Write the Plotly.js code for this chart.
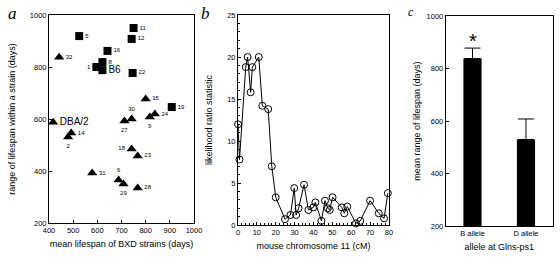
<!DOCTYPE html>
<html><head><meta charset="utf-8">
<script src="https://cdn.plot.ly/plotly-3.0.1.min.js"></script>
<style>html,body{margin:0;padding:0;background:#fff}#plot{width:560px;height:259px}</style>
</head><body><div id="plot"></div>
<script>
// Panel a: squares (B allele strains)
const sqLabels = ["11","12","5","16","8","1","B6","22","19"];
const sqMean   = [750, 742, 525, 642, 621, 596, 621, 746, 908];
const sqRange  = [950, 908, 919, 862, 819, 800, 788, 777, 646];
const sqPos    = ["middle right","middle right","middle right","middle right","middle right","middle left","middle right","middle right","middle right"];
// Panel a: triangles (D allele strains)
const trLabels = ["32","15","24","9","30","27","DBA/2","14","2","18","23","31","6","29","28"];
const trMean   = [442, 800, 838, 817, 742, 712, 417, 492, 479, 742, 767, 579, 688, 708, 767];
const trRange  = [838, 677, 619, 608, 600, 592, 588, 546, 531, 485, 458, 392, 365, 350, 335];
const trPos    = ["middle right","middle right","middle right","bottom center","top center","bottom center","middle right","middle right","bottom center","middle left","middle right","middle right","top center","bottom center","middle right"];
// Panel b: LRS along chromosome 11
const cM  = [0, 0.8, 4.1, 5.1, 6.7, 7.6, 11, 12.9, 16, 17.9, 20, 24.9, 27.8, 29.8, 30.8, 32.1, 35, 37.3, 39.9, 41, 44.2, 46.1, 47.6, 48.6, 50.1, 55, 56.3, 57.9, 62.5, 64.8, 70, 74.6, 77.4, 79.4];
const lrs = [12.0, 7.8, 18.8, 20.0, 15.8, 18.8, 20.0, 14.2, 13.8, 7.0, 3.3, 0.7, 1.2, 4.4, 1.2, 2.0, 4.8, 1.8, 2.1, 2.7, 0.5, 2.9, 2.0, 1.8, 3.3, 2.1, 1.4, 2.2, 0.2, 0.5, 2.9, 1.4, 0.8, 3.8];
// Panel c: mean range by allele
const alleles  = ["B allele", "D allele"];
const meanRange = [838, 530];
const errUp     = [40, 78];

const F = "Liberation Sans, Arial, sans-serif";
const tickF = {family: F, size: 7.5, color: "#000"};
const titleF = {family: F, size: 9, color: "#000"};
const ax = {showgrid:false, zeroline:false, showline:true, linecolor:"#000", linewidth:1, mirror:true,
            ticks:"inside", ticklen:3, tickcolor:"#000", tickfont:tickF};

const traces = [
 {type:"scatter", mode:"markers+text", x:sqMean, y:sqRange, text:sqLabels, textposition:sqPos,
  textfont:{family:F, size:sqLabels.map(l=>l==="B6"?10:6), color:"#000"},
  marker:{symbol:"square", size:8, color:"#000"}, xaxis:"x", yaxis:"y", cliponaxis:false, hoverinfo:"skip"},
 {type:"scatter", mode:"markers+text", x:trMean, y:trRange, text:trLabels, textposition:trPos,
  textfont:{family:F, size:trLabels.map(l=>l==="DBA/2"?10:6), color:"#000"},
  marker:{symbol:"triangle-up", size:9, color:"#000"}, xaxis:"x", yaxis:"y", cliponaxis:false, hoverinfo:"skip"},
 {type:"scatter", mode:"lines+markers", x:cM, y:lrs, line:{color:"#000", width:1},
  marker:{symbol:"circle-open", size:7, color:"#000", line:{width:1, color:"#000"}},
  xaxis:"x2", yaxis:"y2", cliponaxis:false},
 {type:"bar", x:alleles, y:meanRange, width:0.34, marker:{color:"#000"},
  error_y:{type:"data", symmetric:false, array:errUp, arrayminus:[0,0], width:8, thickness:1, color:"#000"},
  xaxis:"x3", yaxis:"y3"}
];

const layout = {
  width:560, height:259, margin:{l:0,r:0,t:0,b:0}, showlegend:false,
  paper_bgcolor:"#fff", plot_bgcolor:"#fff",
  xaxis: Object.assign({}, ax, {domain:[0.0875,0.3464], anchor:"y", range:[400,1000], dtick:100,
         title:{text:"mean lifespan of BXD strains (days)", font:titleF, standoff:6}}),
  yaxis: Object.assign({}, ax, {domain:[0.139,0.942], anchor:"x", range:[200,1000], dtick:200,
         title:{text:"range of lifespan within a strain (days)", font:titleF, standoff:12}}),
  xaxis2: Object.assign({}, ax, {domain:[0.425,0.6946], anchor:"y2", range:[0,80], dtick:10,
         minor:{dtick:2, ticks:"inside", ticklen:2, tickcolor:"#000"},
         title:{text:"mouse chromosome 11 (cM)", font:titleF, standoff:6}}),
  yaxis2: Object.assign({}, ax, {domain:[0.131,0.942], anchor:"x2", range:[0,25], dtick:5,
         minor:{dtick:1, ticks:"inside", ticklen:2, tickcolor:"#000"},
         title:{text:"likelihood ratio statistic", font:titleF, standoff:12}}),
  xaxis3: Object.assign({}, ax, {domain:[0.796,0.987], anchor:"y3", type:"category", range:[-0.5,1.5], ticks:"",
         title:{text:"allele at Glns-ps1", font:titleF, standoff:6}}),
  yaxis3: Object.assign({}, ax, {domain:[0.127,0.938], anchor:"x3", range:[200,1000], dtick:200,
         title:{text:"mean range of lifespan (days)", font:titleF, standoff:4}}),
  annotations:[
    {text:"a", xref:"paper", yref:"paper", x:12/560, y:1-13/259, xanchor:"center", yanchor:"middle", showarrow:false,
     font:{family:"Liberation Serif, serif", size:17, color:"#000", style:"italic"}},
    {text:"b", xref:"paper", yref:"paper", x:205/560, y:1-13/259, xanchor:"center", yanchor:"middle", showarrow:false,
     font:{family:"Liberation Serif, serif", size:17, color:"#000", style:"italic"}},
    {text:"c", xref:"paper", yref:"paper", x:411/560, y:1-12/259, xanchor:"center", yanchor:"middle", showarrow:false,
     font:{family:"Liberation Serif, serif", size:12, color:"#000", style:"italic"}},
    {text:"*", xref:"x3", yref:"y3", x:alleles[0], y:meanRange[0]+errUp[0], yshift:-6, xanchor:"center", yanchor:"bottom", showarrow:false,
     font:{family:F, size:20, color:"#000"}}
  ]
};
Plotly.newPlot("plot", traces, layout, {staticPlot:true, displayModeBar:false});
</script></body></html>
